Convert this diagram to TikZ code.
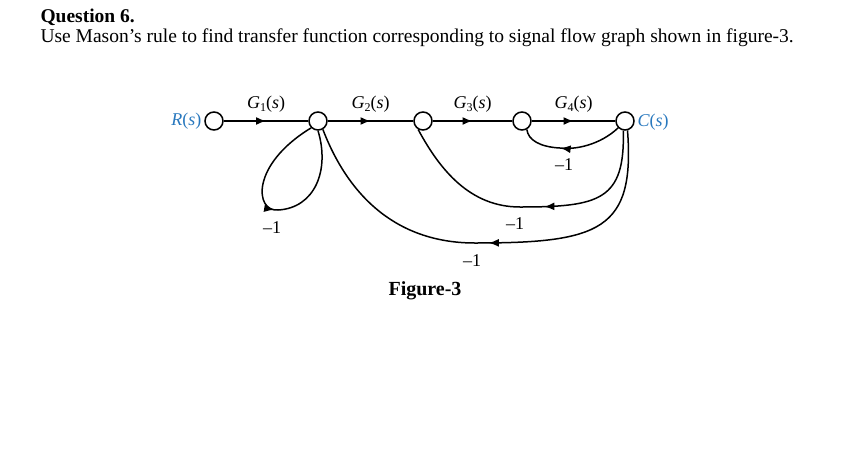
\documentclass[tikz,border=0pt]{standalone}
\usepackage{fontspec}
\setmainfont{Liberation Serif}
\usetikzlibrary{decorations.markings,arrows.meta}
\definecolor{lblue}{RGB}{40,120,190}
\newcommand{\gs}[1]{\textit{G}\raisebox{-3pt}{\fontsize{12}{12}\selectfont #1}(\textit{s})}
\begin{document}
\begin{tikzpicture}[x=1pt,y=-1pt,
  sig/.style={circle,draw,line width=1.5pt,fill=white,minimum size=18pt,inner sep=0pt},
  br/.style={line width=1.5pt,postaction={decorate},decoration={markings,mark=at position #1 with {\arrow{Latex[length=10pt,width=8pt]}}}},
  br/.default=0.5,
  lab/.style={font=\fontsize{18}{20}\selectfont}]
\useasboundingbox (0,0) rectangle (864,450);
\node[anchor=west,font=\bfseries\fontsize{19.5}{22}\selectfont] (t1) at (37,17) {Question 6.};
\node[anchor=west,font=\fontsize{19.5}{22}\selectfont] (t2) at (37,38) {Use Mason’s rule to find transfer function corresponding to signal flow graph shown in figure-3.};
\node[sig] (n1) at (214,121) {};
\node[sig] (n2) at (318,121) {};
\node[sig] (n3) at (423,121) {};
\node[sig] (n4) at (522,121) {};
\node[sig] (n5) at (625,121) {};
\node[lab,anchor=east,text=lblue] (R) at (205,121) {\textit{R}(\textit{s})};
\node[lab,anchor=west,text=lblue] (C) at (634,122) {\textit{C}(\textit{s})};
\draw[br] (n1) -- (n2) node[lab,midway,above=5pt] {\gs1};
\draw[br] (n2) -- (n3) node[lab,midway,above=5pt] {\gs2};
\draw[br] (n3) -- (n4) node[lab,midway,above=5pt] {\gs3};
\draw[br] (n4) -- (n5) node[lab,midway,above=5pt] {\gs4};
\draw[br=0.5] (n2.225) .. controls (250,165) and (255,212) .. (278,210) coordinate (l1)
   .. controls (315,208) and (330,170) .. (n2.270);
\node[lab] (m1) at (272,228) {–1};
\draw[br=0.6] (n5.225) .. controls (600,145) and (575,150) .. (560,148) .. controls (540,147) and (528,140) .. (n4.300);
\node[lab] (m2) at (564,165) {–1};
\draw[br=0.45] (n5.260) .. controls (625,200) and (600,207) .. (520,207) .. controls (470,207) and (440,170) .. (n3.240);
\node[lab] (m3) at (515,224) {–1};
\draw[br=0.5] (n5.285) .. controls (635,230) and (600,243) .. (475,243) .. controls (400,243) and (350,200) .. (n2.300);
\node[lab] (m4) at (472,261) {–1};
\node[font=\bfseries\fontsize{20}{22}\selectfont] (f) at (425,291) {Figure-3};
\end{tikzpicture}
\end{document}
